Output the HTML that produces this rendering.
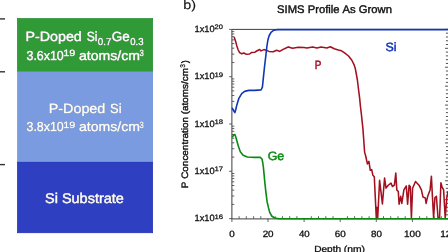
<!DOCTYPE html>
<html lang="en"><head><meta charset="utf-8"><title>SIMS Profile As Grown</title>
<style>html,body{margin:0;padding:0;background:#fff;overflow:hidden}svg{display:block}text{font-family:"Liberation Sans", sans-serif;font-kerning:none;text-rendering:geometricPrecision}.w{fill:#fff;stroke:#fff;stroke-width:.5px;filter:drop-shadow(0.4px 0.6px 0.4px rgba(0,0,0,.6))}.s{stroke-width:.25px}.w .s{stroke-width:.4px}.k{fill:#111;stroke:#111;stroke-width:.3px}.c{stroke-width:.5px}</style></head><body>
<svg width="448" height="252" viewBox="0 0 448 252">
<rect width="448" height="252" fill="#fff"/>
<rect x="0" y="18.2" width="5" height="1.4" fill="#333"/>
<rect x="0" y="71.1" width="5" height="1.4" fill="#333"/>
<rect x="0" y="163.9" width="5" height="1.4" fill="#333"/>
<rect x="17.45" y="18.55" width="135.2" height="53.05" fill="#2f9a36" stroke="#1f8a2a" stroke-width=".7"/>
<rect x="17.1" y="71.6" width="135.9" height="90.1" fill="#7a9be0"/>
<rect x="17.45" y="162.05" width="135.2" height="70.7" fill="#2f3fc1" stroke="#1c2cb6" stroke-width=".7"/>
<g class="w">
<text><tspan x="25.43" y="41.30" font-size="13.4" textLength="56.39" lengthAdjust="spacingAndGlyphs">P-Doped</tspan><tspan x="86.75" font-size="13.4" textLength="10.77" lengthAdjust="spacingAndGlyphs">Si</tspan><tspan x="97.82" dy="4.10" font-size="10.0" textLength="13.57" lengthAdjust="spacingAndGlyphs" class="s">0.7</tspan><tspan x="111.82" dy="-4.10" font-size="13.4" textLength="17.98" lengthAdjust="spacingAndGlyphs">Ge</tspan><tspan x="130.23" dy="4.10" font-size="10.0" textLength="13.29" lengthAdjust="spacingAndGlyphs" class="s">0.3</tspan></text>
<text><tspan x="26.53" y="59.50" font-size="13.0" textLength="37.26" lengthAdjust="spacingAndGlyphs">3.6x10</tspan><tspan x="63.28" dy="-3.70" font-size="9.0" textLength="12.04" lengthAdjust="spacingAndGlyphs" class="s">19</tspan><tspan x="79.00" dy="3.70" font-size="13.0" textLength="60.92" lengthAdjust="spacingAndGlyphs">atoms/cm</tspan><tspan x="139.50" dy="-3.70" font-size="9.0" textLength="4.34" lengthAdjust="spacingAndGlyphs" class="s">3</tspan></text>
<text><tspan x="48.72" y="113.20" font-size="13.4" textLength="56.60" lengthAdjust="spacingAndGlyphs">P-Doped</tspan><tspan x="110.01" font-size="13.4" textLength="11.57" lengthAdjust="spacingAndGlyphs">Si</tspan></text>
<text><tspan x="26.53" y="131.40" font-size="13.0" textLength="37.26" lengthAdjust="spacingAndGlyphs">3.8x10</tspan><tspan x="63.28" dy="-3.70" font-size="9.0" textLength="12.04" lengthAdjust="spacingAndGlyphs" class="s">19</tspan><tspan x="79.00" dy="3.70" font-size="13.0" textLength="60.92" lengthAdjust="spacingAndGlyphs">atoms/cm</tspan><tspan x="139.50" dy="-3.70" font-size="9.0" textLength="4.34" lengthAdjust="spacingAndGlyphs" class="s">3</tspan></text>
<text><tspan x="45.04" y="202.50" font-size="14.0" textLength="78.80" lengthAdjust="spacingAndGlyphs">Si Substrate</tspan></text>
</g>
<text class="k" style="stroke-width:.12px"><tspan x="183.17" y="8.90" font-size="12.4" textLength="12.82" lengthAdjust="spacingAndGlyphs">b)</tspan></text>
<text class="k" style="stroke-width:.4px"><tspan x="277.09" y="12.90" font-size="11" textLength="114.84" lengthAdjust="spacingAndGlyphs">SIMS Profile As Grown</tspan></text>
<g stroke="#3e3e3e" stroke-width="1" fill="none">
<path d="M231.9,29.4 V218.6 M231.9,29.4 H449 M231.4,218.9 H449"/>
<path d="M229.1,29.4 H231.9 M231.9,62.5 h2.4 M231.9,54.1 h2.4 M231.9,48.2 h2.4 M231.9,43.6 h2.4 M231.9,39.9 h2.4 M231.9,36.7 h2.4 M231.9,34.0 h2.4 M231.9,31.6 h2.4 M229.1,76.7 H231.9 M231.9,109.8 h2.4 M231.9,101.4 h2.4 M231.9,95.5 h2.4 M231.9,90.9 h2.4 M231.9,87.2 h2.4 M231.9,84.0 h2.4 M231.9,81.3 h2.4 M231.9,78.9 h2.4 M229.1,124.0 H231.9 M231.9,157.1 h2.4 M231.9,148.7 h2.4 M231.9,142.8 h2.4 M231.9,138.2 h2.4 M231.9,134.5 h2.4 M231.9,131.3 h2.4 M231.9,128.6 h2.4 M231.9,126.2 h2.4 M229.1,171.3 H231.9 M231.9,204.4 h2.4 M231.9,196.0 h2.4 M231.9,190.1 h2.4 M231.9,185.5 h2.4 M231.9,181.8 h2.4 M231.9,178.6 h2.4 M231.9,175.9 h2.4 M231.9,173.5 h2.4 M229.1,218.6 H231.9" stroke-width="0.8"/>
<path d="M231.9,218.6 v3.4 M239.1,218.6 v-2.4 M246.3,218.6 v-2.4 M253.6,218.6 v-2.4 M260.8,218.6 v-2.4 M268.0,218.6 v3.4 M275.2,218.6 v-2.4 M282.4,218.6 v-2.4 M289.7,218.6 v-2.4 M296.9,218.6 v-2.4 M304.1,218.6 v3.4 M311.3,218.6 v-2.4 M318.5,218.6 v-2.4 M325.8,218.6 v-2.4 M333.0,218.6 v-2.4 M340.2,218.6 v3.4 M347.4,218.6 v-2.4 M354.6,218.6 v-2.4 M361.9,218.6 v-2.4 M369.1,218.6 v-2.4 M376.3,218.6 v3.4 M383.5,218.6 v-2.4 M390.7,218.6 v-2.4 M398.0,218.6 v-2.4 M405.2,218.6 v-2.4 M412.4,218.6 v3.4 M419.6,218.6 v-2.4 M426.8,218.6 v-2.4 M434.1,218.6 v-2.4 M441.3,218.6 v-2.4 M448.5,218.6 v3.4" stroke-width="0.8"/>
<path d="M448,29.40 h-3 M448,33.18 h-2.1 M448,36.97 h-2.1 M448,40.75 h-2.1 M448,44.54 h-2.1 M448,48.32 h-3 M448,52.10 h-2.1 M448,55.89 h-2.1 M448,59.67 h-2.1 M448,63.46 h-2.1 M448,67.24 h-3 M448,71.02 h-2.1 M448,74.81 h-2.1 M448,78.59 h-2.1 M448,82.38 h-2.1 M448,86.16 h-3 M448,89.94 h-2.1 M448,93.73 h-2.1 M448,97.51 h-2.1 M448,101.30 h-2.1 M448,105.08 h-3 M448,108.86 h-2.1 M448,112.65 h-2.1 M448,116.43 h-2.1 M448,120.22 h-2.1 M448,124.00 h-3 M448,127.78 h-2.1 M448,131.57 h-2.1 M448,135.35 h-2.1 M448,139.14 h-2.1 M448,142.92 h-3 M448,146.70 h-2.1 M448,150.49 h-2.1 M448,154.27 h-2.1 M448,158.06 h-2.1 M448,161.84 h-3 M448,165.62 h-2.1 M448,169.41 h-2.1 M448,173.19 h-2.1 M448,176.98 h-2.1 M448,180.76 h-3 M448,184.54 h-2.1 M448,188.33 h-2.1 M448,192.11 h-2.1 M448,195.90 h-2.1 M448,199.68 h-3 M448,203.46 h-2.1 M448,207.25 h-2.1 M448,211.03 h-2.1 M448,214.82 h-2.1 M448,218.60 h-3" stroke-width="0.9"/>
</g>
<path d="M234.3,37.6 L235.5,41.0 L236.7,45.4 L238.0,49.5 L239.6,52.6 L241.7,53.7 L243.9,53.0 L246.0,54.2 L249.6,54.0 L251.7,52.4 L254.6,52.3 L256.7,51.0 L259.6,49.5 L261.0,50.9 L263.9,49.6 L266.7,50.4 L268.9,51.4 L273.1,51.7 L276.7,50.3 L279.6,51.4 L283.1,49.4 L285.5,48.3 L288.3,46.9 L292.6,48.3 L298.3,47.3 L304.0,47.6 L306.9,48.0 L312.6,46.9 L316.9,47.9 L321.1,47.1 L326.9,47.9 L330.3,46.8 L334.3,48.7 L338.3,50.0 L341.5,50.8 L344.6,52.9 L348.5,56.0 L351.7,60.0 L353.9,64.3 L355.3,68.6 L356.5,75.0 L357.4,80.0 L358.6,90.0 L359.7,98.6 L360.4,106.0 L361.4,114.3 L362.9,128.6 L363.6,138.0 L364.6,152.1 L365.7,156.0 L367.4,163.9 L368.9,161.4 L370.3,170.3 L371.7,169.6 L372.9,175.3 L374.3,176.7 L376.3,218.1 L377.1,207.4 L377.7,218.1 L379.6,180.3 L382.4,203.9 L384.6,178.1 L386.0,188.1 L388.5,185.0 L391.0,183.1 L392.4,186.5 L394.4,185.2 L395.8,173.1 L396.8,189.9 L398.3,191.5 L399.1,204.2 L400.7,196.3 L401.8,203.4 L403.9,189.9 L406.3,186.0 L407.6,204.2 L409.1,185.2 L410.3,186.8 L411.4,217.7 L412.6,188.3 L415.5,181.5 L419.0,185.2 L421.4,189.9 L423.0,197.1 L425.3,197.9 L426.1,203.4 L427.7,196.3 L430.1,189.9 L431.4,176.3 L432.5,197.9 L433.6,217.7 L434.9,197.9 L436.4,196.3 L438.0,217.7 L439.6,217.7 L440.9,182.7 L442.0,186.8 L443.6,189.9 L445.2,217.7 L446.8,197.9 L448.0,191.5" fill="none" stroke="#a3101f" stroke-width="1.55" stroke-linejoin="round" stroke-linecap="round"/>
<path d="M232.5,136.7 L233.7,135.0 L234.9,134.6 L235.8,137.0 L236.7,140.3 L238.3,146.0 L240.3,151.7 L243.1,155.3 L247.4,157.0 L254.6,157.4 L260.3,157.4 L262.0,159.0 L262.8,163.0 L263.4,167.4 L264.1,174.6 L264.9,183.1 L266.0,193.1 L267.1,201.7 L268.4,207.4 L269.6,212.1 L271.7,216.0 L274.6,218.0 L278.9,218.7 L449.0,218.7" fill="none" stroke="#0c8a12" stroke-width="1.6" stroke-linejoin="round" stroke-linecap="round"/>
<path d="M232.4,108.3 L233.5,110.5 L234.9,112.6 L235.8,109.5 L236.7,105.4 L238.9,98.3 L241.7,93.7 L244.6,91.4 L248.9,90.4 L254.6,90.4 L258.0,90.1 L261.0,90.0 L262.4,87.2 L263.4,77.4 L264.6,66.0 L265.8,56.0 L266.8,47.0 L267.8,40.5 L269.0,36.0 L271.0,32.3 L273.9,30.2 L277.4,29.6 L449.0,29.6" fill="none" stroke="#1236b4" stroke-width="1.6" stroke-linejoin="round" stroke-linecap="round"/>
<text class="c" fill="#1236b4" stroke="#1236b4"><tspan x="385.64" y="51.20" font-size="12.0" textLength="10.99" lengthAdjust="spacingAndGlyphs">Si</tspan></text>
<text class="c" fill="#a3101f" stroke="#a3101f"><tspan x="314.68" y="69.30" font-size="12.0" textLength="6.64" lengthAdjust="spacingAndGlyphs">P</tspan></text>
<text class="c" fill="#0c8a12" stroke="#0c8a12"><tspan x="267.68" y="160.30" font-size="12.0" textLength="16.58" lengthAdjust="spacingAndGlyphs">Ge</tspan></text>
<text class="k"><tspan x="194.49" y="32.00" font-size="9.2" textLength="20.17" lengthAdjust="spacingAndGlyphs">1x10</tspan><tspan x="214.62" dy="-2.70" font-size="6.5" textLength="8.37" lengthAdjust="spacingAndGlyphs" class="s">20</tspan></text>
<text class="k"><tspan x="194.49" y="79.30" font-size="9.2" textLength="20.17" lengthAdjust="spacingAndGlyphs">1x10</tspan><tspan x="214.41" dy="-2.70" font-size="6.5" textLength="8.66" lengthAdjust="spacingAndGlyphs" class="s">19</tspan></text>
<text class="k"><tspan x="194.49" y="126.60" font-size="9.2" textLength="20.17" lengthAdjust="spacingAndGlyphs">1x10</tspan><tspan x="214.41" dy="-2.70" font-size="6.5" textLength="8.63" lengthAdjust="spacingAndGlyphs" class="s">18</tspan></text>
<text class="k"><tspan x="194.49" y="173.90" font-size="9.2" textLength="20.17" lengthAdjust="spacingAndGlyphs">1x10</tspan><tspan x="214.41" dy="-2.70" font-size="6.5" textLength="8.69" lengthAdjust="spacingAndGlyphs" class="s">17</tspan></text>
<text class="k"><tspan x="194.49" y="221.20" font-size="9.2" textLength="20.17" lengthAdjust="spacingAndGlyphs">1x10</tspan><tspan x="214.41" dy="-2.70" font-size="6.5" textLength="8.63" lengthAdjust="spacingAndGlyphs" class="s">16</tspan></text>
<text class="k"><tspan x="229.37" y="236.50" font-size="9.1" textLength="5.47" lengthAdjust="spacingAndGlyphs">0</tspan></text>
<text class="k"><tspan x="262.65" y="236.50" font-size="9.1" textLength="10.98" lengthAdjust="spacingAndGlyphs">20</tspan></text>
<text class="k"><tspan x="299.03" y="236.50" font-size="9.1" textLength="10.70" lengthAdjust="spacingAndGlyphs">40</tspan></text>
<text class="k"><tspan x="334.85" y="236.50" font-size="9.1" textLength="10.99" lengthAdjust="spacingAndGlyphs">60</tspan></text>
<text class="k"><tspan x="371.02" y="236.50" font-size="9.1" textLength="10.91" lengthAdjust="spacingAndGlyphs">80</tspan></text>
<text class="k"><tspan x="404.09" y="236.50" font-size="9.1" textLength="16.65" lengthAdjust="spacingAndGlyphs">100</tspan></text>
<text class="k"><tspan x="440.19" y="236.50" font-size="9.1" textLength="16.65" lengthAdjust="spacingAndGlyphs">120</tspan></text>
<text class="k"><tspan x="314.17" y="252.40" font-size="8.9" textLength="26.99" lengthAdjust="spacingAndGlyphs">Depth</tspan><tspan x="343.86" font-size="8.9" textLength="21.18" lengthAdjust="spacingAndGlyphs">(nm)</tspan></text>
<text transform="translate(187.9,0) rotate(-90)" class="k" style="stroke-width:.38px"><tspan x="-188.21" y="0.00" font-size="9.3" textLength="120.27" lengthAdjust="spacingAndGlyphs">P Concentration (atoms/cm</tspan><tspan x="-67.75" dy="-3.00" font-size="6.9" textLength="3.64" lengthAdjust="spacingAndGlyphs" class="s">3</tspan><tspan x="-63.35" dy="3.00" font-size="9.3" textLength="3.01" lengthAdjust="spacingAndGlyphs">)</tspan></text>
</svg></body></html>
